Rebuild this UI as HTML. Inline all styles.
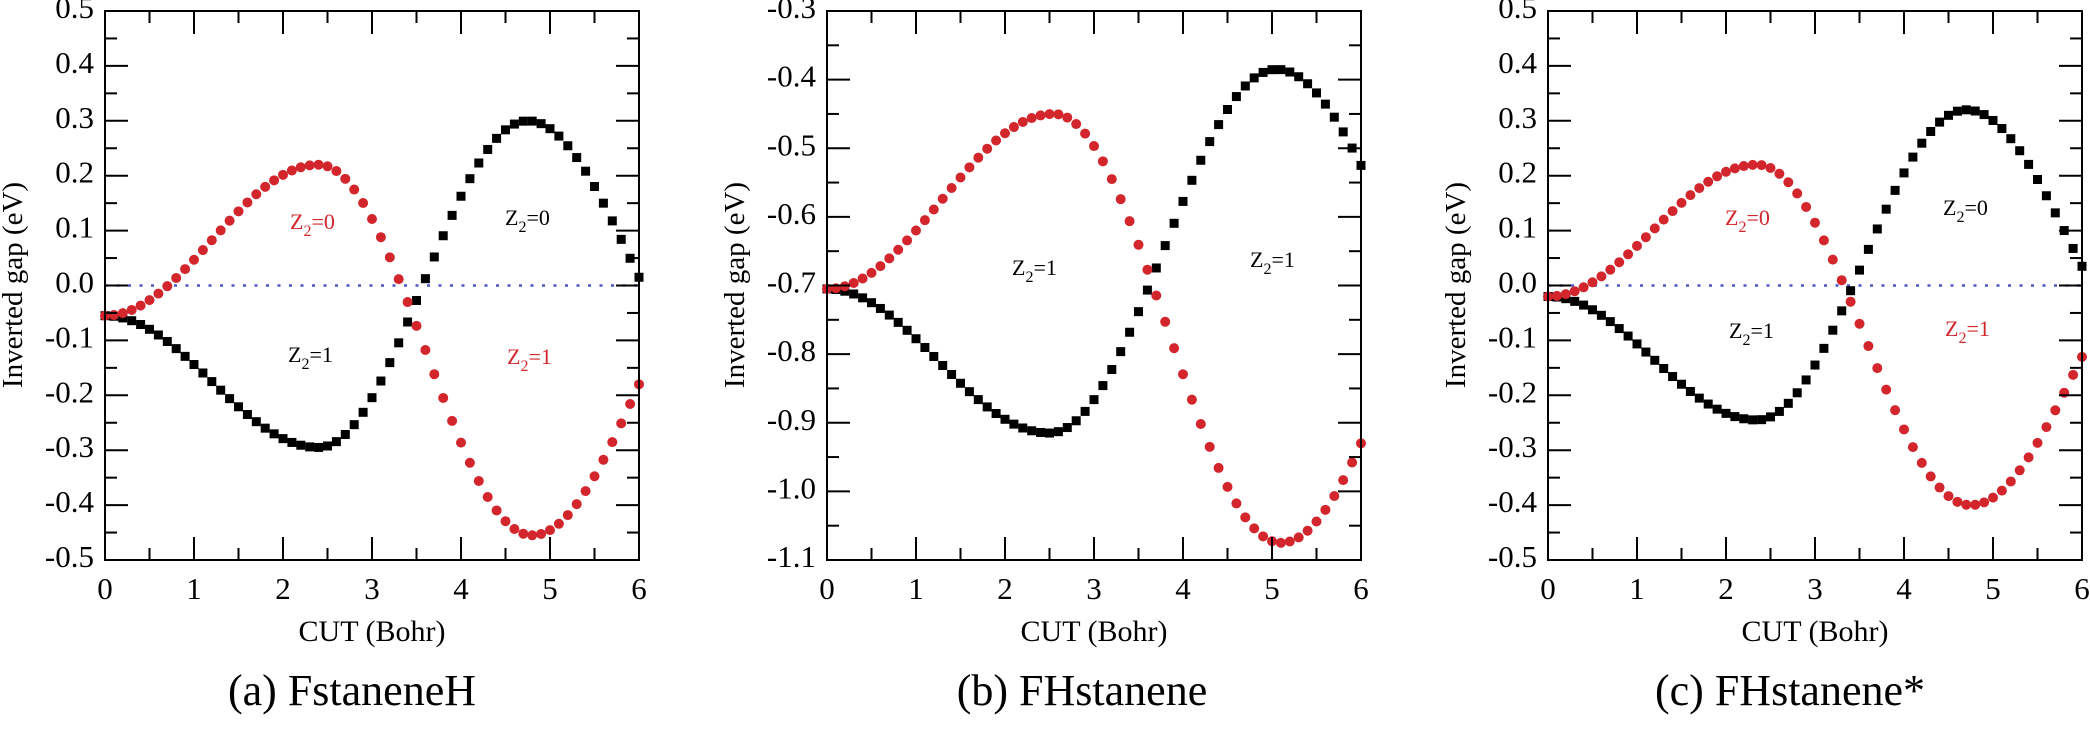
<!DOCTYPE html>
<html><head><meta charset="utf-8">
<style>
html,body{margin:0;padding:0;background:#fff;width:2090px;height:733px;overflow:hidden}
svg text{font-family:"Liberation Serif",serif}
</style></head>
<body>
<svg id="s" width="2090" height="733" xmlns="http://www.w3.org/2000/svg"></svg>
<script>
const S=document.getElementById('s');
let out='';
const RED='#d3262c';
function curve(ext,endV,nextX){
  const last=ext[ext.length-1];
  const t=(6-last[0])/(nextX-last[0]);
  const w=(1-Math.cos(Math.PI*t))/2;
  const v=last[1]+(endV-last[1])/w;
  const pts=ext.concat([[nextX,v]]);
  return function(x){
    for(let i=0;i<pts.length-1;i++){
      if(x<=pts[i+1][0]+1e-9){
        const tt=(x-pts[i][0])/(pts[i+1][0]-pts[i][0]);
        return pts[i][1]+(pts[i+1][1]-pts[i][1])*(1-Math.cos(Math.PI*tt))/2;
      }
    }
  };
}
function panel(L,ymin,ymax,black,red,zeroLine,labels,cap,capX){
  const R=L+534,T=11,B=560;
  const X=x=>L+(x/6)*(R-L);
  const Y=y=>B-(y-ymin)/(ymax-ymin)*(B-T);
  if(zeroLine) out+=`<line x1="${L}" x2="${R}" y1="${Y(0)}" y2="${Y(0)}" stroke="#4a55c8" stroke-width="2.5" stroke-dasharray="3,8.5"/>`;
  for(let i=0;i<=60;i++){const x=i/10;
    out+=`<rect x="${X(x)-4.5}" y="${Y(black(x))-4.5}" width="9" height="9" fill="#000"/>`;}
  for(let i=0;i<=60;i++){const x=i/10;
    out+=`<circle cx="${X(x)}" cy="${Y(red(x))}" r="5" fill="${RED}"/>`;}
  out+=`<rect x="${L}" y="${T}" width="${R-L}" height="${B-T}" fill="none" stroke="#000" stroke-width="2"/>`;
  for(let i=0;i<=12;i++){const x=X(i/2),len=i%2==0?23:12;
    out+=`<line x1="${x}" x2="${x}" y1="${B}" y2="${B-len}" stroke="#000" stroke-width="2"/>`;
    out+=`<line x1="${x}" x2="${x}" y1="${T}" y2="${T+len}" stroke="#000" stroke-width="2"/>`;
    if(i%2==0) out+=`<text x="${x}" y="599" font-size="31" text-anchor="middle">${i/2}</text>`;}
  const n=Math.round((ymax-ymin)/0.05);
  for(let i=0;i<=n;i++){const v=ymin+i*0.05,y=Y(v),len=i%2==0?23:12;
    out+=`<line x1="${L}" x2="${L+len}" y1="${y}" y2="${y}" stroke="#000" stroke-width="2"/>`;
    out+=`<line x1="${R}" x2="${R-len}" y1="${y}" y2="${y}" stroke="#000" stroke-width="2"/>`;
    if(i%2==0){let s=(Math.abs(v)<1e-9?0:v).toFixed(1);
      out+=`<text x="${L-11}" y="${y+7}" font-size="31" text-anchor="end">${s}</text>`;}}
  out+=`<text x="${(L+R)/2}" y="641" font-size="30" text-anchor="middle">CUT (Bohr)</text>`;
  out+=`<text transform="translate(${L-83},285) rotate(-90)" font-size="29" text-anchor="middle">Inverted gap (eV)</text>`;
  for(const l of labels){
    out+=`<text x="${l[0]}" y="${l[1]}" font-size="22" fill="${l[2]}">Z<tspan font-size="16" dy="7">2</tspan><tspan dy="-7">=${l[3]}</tspan></text>`;}
  out+=`<text x="${capX}" y="705" font-size="44" text-anchor="middle">${cap}</text>`;
}
panel(105,-0.5,0.5,
  curve([[0,-0.055],[2.4,-0.295],[4.75,0.30]],0.015,7.1),
  curve([[0,-0.055],[2.4,0.22],[4.8,-0.455]],-0.18,7.2),
  true,[[290,229,RED,'0'],[505,225,'#000','0'],[288,362,'#000','1'],[507,364,RED,'1']],
  '(a) FstaneneH',352);
panel(827,-1.1,-0.3,
  curve([[0,-0.705],[2.5,-0.915],[5.05,-0.385]],-0.525,7.6),
  curve([[0,-0.705],[2.55,-0.45],[5.1,-1.075]],-0.93,7.65),
  false,[[1012,275,'#000','1'],[1250,267,'#000','1']],
  '(b) FHstanene',1082);
panel(1548,-0.5,0.5,
  curve([[0,-0.02],[2.35,-0.245],[4.7,0.32]],0.035,7.05),
  curve([[0,-0.02],[2.35,0.22],[4.75,-0.4]],-0.13,7.1),
  true,[[1725,225,RED,'0'],[1943,215,'#000','0'],[1729,338,'#000','1'],[1945,336,RED,'1']],
  '(c) FHstanene*',1790);
S.innerHTML=out;
</script>
</body></html>
